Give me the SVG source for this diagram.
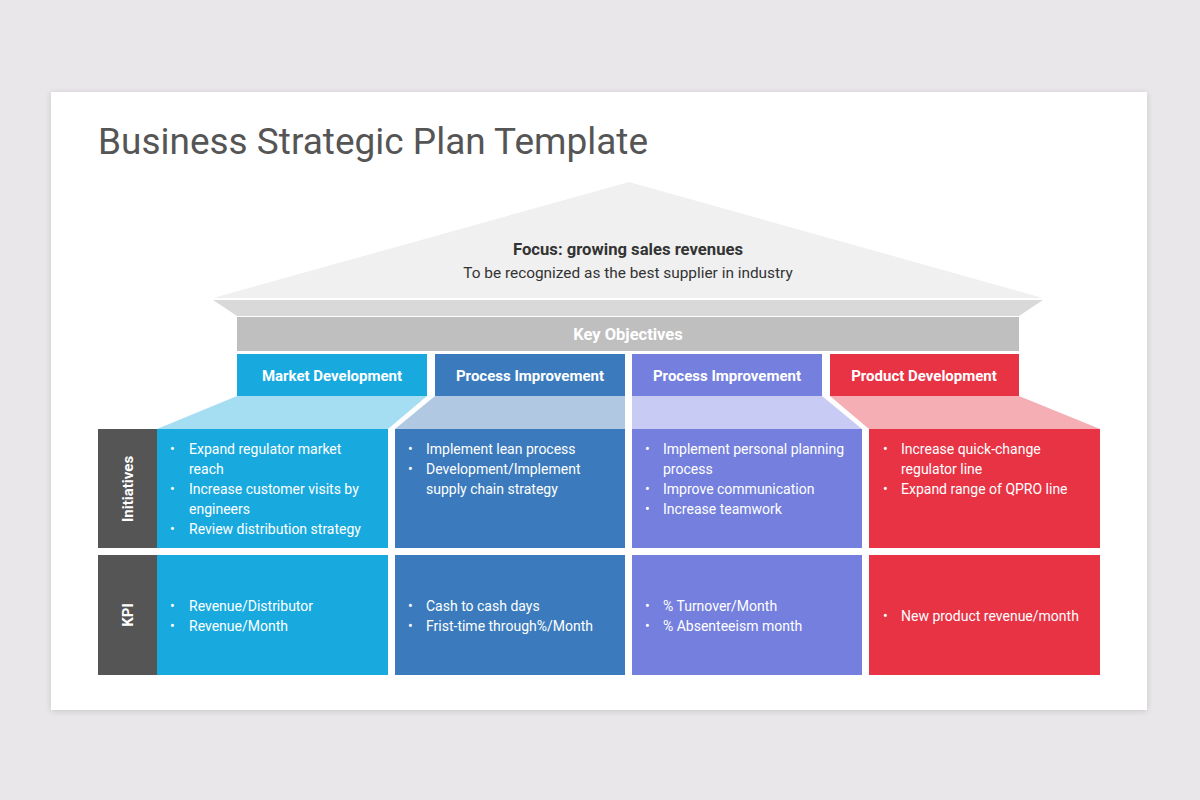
<svg xmlns="http://www.w3.org/2000/svg" width="1200" height="800" viewBox="0 0 1200 800">
<defs>
<style>
.t{font-family:Roboto,"Liberation Sans",sans-serif;}
.hd{font-family:Roboto,"Liberation Sans",sans-serif;font-weight:bold;font-size:15px;fill:#fff;text-anchor:middle;}
.bl{font-family:Roboto,"Liberation Sans",sans-serif;font-size:14px;fill:#fff;}
.lb{font-family:Roboto,"Liberation Sans",sans-serif;font-weight:bold;font-size:15px;fill:#fff;text-anchor:middle;}
</style>
<filter id="sh" x="-5%" y="-5%" width="110%" height="110%">
<feGaussianBlur in="SourceAlpha" stdDeviation="3"/>
<feOffset dy="1"/>
<feComponentTransfer><feFuncA type="linear" slope="0.15"/></feComponentTransfer>
<feMerge><feMergeNode/><feMergeNode in="SourceGraphic"/></feMerge>
</filter>
</defs>
<rect x="0" y="0" width="1200" height="800" fill="#e9e7e9"/>
<rect x="51" y="92" width="1096" height="618" fill="#ffffff" filter="url(#sh)"/>
<text class="t" x="98" y="154" font-size="37" fill="#555555" textLength="550" lengthAdjust="spacingAndGlyphs">Business Strategic Plan Template</text>

<g id="roof">
<polygon points="629,182 1043,298 213,298" fill="#f0f0f0"/>
<polygon points="213,300 1043,300 1019,316 237,316" fill="#d9d9d9"/>
<text class="t" x="628" y="255" font-size="16" font-weight="bold" fill="#333" text-anchor="middle" textLength="230" lengthAdjust="spacingAndGlyphs">Focus: growing  sales revenues</text>
<text class="t" x="628" y="278" font-size="15.4" fill="#333" text-anchor="middle">To be recognized as the best supplier in industry</text>
</g>

<g id="key-objectives">
<rect x="237" y="317" width="782" height="34" fill="#bfbfbf"/>
<text class="hd" x="628" y="340" font-size="16.5" style="font-size:16.5px">Key Objectives</text>
</g>

<g id="connectors">
<polygon points="237,396 427,396 388,429 157,429" fill="#a5ddf3"/>
<polygon points="435,396 625,396 625,429 395,429" fill="#b0c8e1"/>
<polygon points="632,396 822,396 862,429 632,429" fill="#c8cbf3"/>
<polygon points="830,396 1019,396 1100,429 869,429" fill="#f5aeb4"/>
</g>

<g id="col1">
<rect x="237" y="354" width="190" height="42" fill="#18aadf"/>
<text class="hd" x="332" y="381">Market Development</text>
<rect x="157" y="429" width="231" height="119" fill="#18aadf"/>
<text class="bl"><tspan x="170" y="454">•</tspan><tspan x="189" y="454">Expand regulator market</tspan><tspan x="189" y="474">reach</tspan><tspan x="170" y="494">•</tspan><tspan x="189" y="494">Increase customer visits by</tspan><tspan x="189" y="514">engineers</tspan><tspan x="170" y="534">•</tspan><tspan x="189" y="534">Review distribution strategy</tspan></text>
<rect x="157" y="555" width="231" height="120" fill="#18aadf"/>
<text class="bl"><tspan x="170" y="611">•</tspan><tspan x="189" y="611">Revenue/Distributor</tspan><tspan x="170" y="631">•</tspan><tspan x="189" y="631">Revenue/Month</tspan></text>
</g>

<g id="col2">
<rect x="435" y="354" width="190" height="42" fill="#3b7bbd"/>
<text class="hd" x="530" y="381">Process Improvement</text>
<rect x="395" y="429" width="230" height="119" fill="#3b7bbd"/>
<text class="bl"><tspan x="408" y="454">•</tspan><tspan x="426" y="454">Implement lean process</tspan><tspan x="408" y="474">•</tspan><tspan x="426" y="474">Development/Implement</tspan><tspan x="426" y="494">supply chain strategy</tspan></text>
<rect x="395" y="555" width="230" height="120" fill="#3b7bbd"/>
<text class="bl"><tspan x="408" y="611">•</tspan><tspan x="426" y="611">Cash to cash days</tspan><tspan x="408" y="631">•</tspan><tspan x="426" y="631">Frist-time through%/Month</tspan></text>
</g>

<g id="col3">
<rect x="632" y="354" width="190" height="42" fill="#747fde"/>
<text class="hd" x="727" y="381">Process Improvement</text>
<rect x="632" y="429" width="230" height="119" fill="#747fde"/>
<text class="bl"><tspan x="645" y="454">•</tspan><tspan x="663" y="454">Implement personal planning</tspan><tspan x="663" y="474">process</tspan><tspan x="645" y="494">•</tspan><tspan x="663" y="494">Improve communication</tspan><tspan x="645" y="514">•</tspan><tspan x="663" y="514">Increase teamwork</tspan></text>
<rect x="632" y="555" width="230" height="120" fill="#747fde"/>
<text class="bl"><tspan x="645" y="611">•</tspan><tspan x="663" y="611">% Turnover/Month</tspan><tspan x="645" y="631">•</tspan><tspan x="663" y="631">% Absenteeism month</tspan></text>
</g>

<g id="col4">
<rect x="830" y="354" width="189" height="42" fill="#e83345"/>
<text class="hd" x="924" y="381">Product Development</text>
<rect x="869" y="429" width="231" height="119" fill="#e83345"/>
<text class="bl"><tspan x="883" y="454">•</tspan><tspan x="901" y="454">Increase quick-change</tspan><tspan x="901" y="474">regulator line</tspan><tspan x="883" y="494">•</tspan><tspan x="901" y="494">Expand range of QPRO line</tspan></text>
<rect x="869" y="555" width="231" height="120" fill="#e83345"/>
<text class="bl"><tspan x="883" y="621">•</tspan><tspan x="901" y="621">New product revenue/month</tspan></text>
</g>

<g id="row-initiatives">
<rect x="98" y="429" width="59" height="119" fill="#555555"/>
<text class="lb" transform="translate(133,489) rotate(-90)">Initiatives</text>
</g>
<g id="row-kpi">
<rect x="98" y="555" width="59" height="120" fill="#555555"/>
<text class="lb" transform="translate(133,615) rotate(-90)">KPI</text>
</g>
</svg>
